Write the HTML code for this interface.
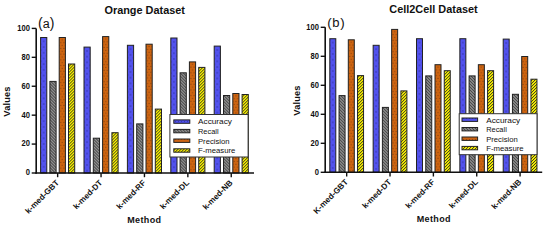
<!DOCTYPE html>
<html><head><meta charset="utf-8"><style>
html,body{margin:0;padding:0;background:#fff;}
body{width:550px;height:231px;overflow:hidden;}
svg{display:block;}
text{font-family:"Liberation Sans",sans-serif;fill:#111;}
.title{font-size:10.9px;font-weight:bold;}
.lab{font-size:13px;}
.tl{font-size:8.3px;font-weight:bold;}
.xl{font-size:8.1px;font-weight:bold;}
.ax{font-size:9px;font-weight:bold;letter-spacing:0.35px;}
.vl{font-size:9.3px;font-weight:bold;letter-spacing:0.15px;}
.lg{font-size:7.8px;}
</style></head><body>
<svg width="550" height="231" viewBox="0 0 550 231">
<defs>
<pattern id="d0" patternUnits="userSpaceOnUse" x="40.85" y="38.50" width="5.7" height="5.7"><rect width="5.7" height="5.7" fill="#5252ee"/><circle cx="2.85" cy="2.85" r="0.75" fill="#3030a0"/><circle cx="0.2" cy="0.2" r="0.6" fill="#4040c0"/><circle cx="5.5" cy="0.2" r="0.6" fill="#4040c0"/><circle cx="0.2" cy="5.5" r="0.6" fill="#4040c0"/><circle cx="5.5" cy="5.5" r="0.6" fill="#4040c0"/></pattern><pattern id="d1" patternUnits="userSpaceOnUse" x="60.70" y="38.50" width="3.2" height="5.7"><rect width="3.2" height="5.7" fill="#cd6410"/><circle cx="1.6" cy="1.4" r="0.6" fill="#8a4210"/><circle cx="0" cy="4.25" r="0.6" fill="#8a4210"/><circle cx="3.2" cy="4.25" r="0.6" fill="#8a4210"/></pattern><pattern id="d2" patternUnits="userSpaceOnUse" x="84.25" y="48.10" width="5.7" height="5.7"><rect width="5.7" height="5.7" fill="#5252ee"/><circle cx="2.85" cy="2.85" r="0.75" fill="#3030a0"/><circle cx="0.2" cy="0.2" r="0.6" fill="#4040c0"/><circle cx="5.5" cy="0.2" r="0.6" fill="#4040c0"/><circle cx="0.2" cy="5.5" r="0.6" fill="#4040c0"/><circle cx="5.5" cy="5.5" r="0.6" fill="#4040c0"/></pattern><pattern id="d3" patternUnits="userSpaceOnUse" x="104.10" y="37.60" width="3.2" height="5.7"><rect width="3.2" height="5.7" fill="#cd6410"/><circle cx="1.6" cy="1.4" r="0.6" fill="#8a4210"/><circle cx="0" cy="4.25" r="0.6" fill="#8a4210"/><circle cx="3.2" cy="4.25" r="0.6" fill="#8a4210"/></pattern><pattern id="d4" patternUnits="userSpaceOnUse" x="127.65" y="46.30" width="5.7" height="5.7"><rect width="5.7" height="5.7" fill="#5252ee"/><circle cx="2.85" cy="2.85" r="0.75" fill="#3030a0"/><circle cx="0.2" cy="0.2" r="0.6" fill="#4040c0"/><circle cx="5.5" cy="0.2" r="0.6" fill="#4040c0"/><circle cx="0.2" cy="5.5" r="0.6" fill="#4040c0"/><circle cx="5.5" cy="5.5" r="0.6" fill="#4040c0"/></pattern><pattern id="d5" patternUnits="userSpaceOnUse" x="147.50" y="45.20" width="3.2" height="5.7"><rect width="3.2" height="5.7" fill="#cd6410"/><circle cx="1.6" cy="1.4" r="0.6" fill="#8a4210"/><circle cx="0" cy="4.25" r="0.6" fill="#8a4210"/><circle cx="3.2" cy="4.25" r="0.6" fill="#8a4210"/></pattern><pattern id="d6" patternUnits="userSpaceOnUse" x="171.05" y="39.00" width="5.7" height="5.7"><rect width="5.7" height="5.7" fill="#5252ee"/><circle cx="2.85" cy="2.85" r="0.75" fill="#3030a0"/><circle cx="0.2" cy="0.2" r="0.6" fill="#4040c0"/><circle cx="5.5" cy="0.2" r="0.6" fill="#4040c0"/><circle cx="0.2" cy="5.5" r="0.6" fill="#4040c0"/><circle cx="5.5" cy="5.5" r="0.6" fill="#4040c0"/></pattern><pattern id="d7" patternUnits="userSpaceOnUse" x="190.90" y="62.90" width="3.2" height="5.7"><rect width="3.2" height="5.7" fill="#cd6410"/><circle cx="1.6" cy="1.4" r="0.6" fill="#8a4210"/><circle cx="0" cy="4.25" r="0.6" fill="#8a4210"/><circle cx="3.2" cy="4.25" r="0.6" fill="#8a4210"/></pattern><pattern id="d8" patternUnits="userSpaceOnUse" x="214.45" y="47.10" width="5.7" height="5.7"><rect width="5.7" height="5.7" fill="#5252ee"/><circle cx="2.85" cy="2.85" r="0.75" fill="#3030a0"/><circle cx="0.2" cy="0.2" r="0.6" fill="#4040c0"/><circle cx="5.5" cy="0.2" r="0.6" fill="#4040c0"/><circle cx="0.2" cy="5.5" r="0.6" fill="#4040c0"/><circle cx="5.5" cy="5.5" r="0.6" fill="#4040c0"/></pattern><pattern id="d9" patternUnits="userSpaceOnUse" x="234.30" y="94.50" width="3.2" height="5.7"><rect width="3.2" height="5.7" fill="#cd6410"/><circle cx="1.6" cy="1.4" r="0.6" fill="#8a4210"/><circle cx="0" cy="4.25" r="0.6" fill="#8a4210"/><circle cx="3.2" cy="4.25" r="0.6" fill="#8a4210"/></pattern><pattern id="d10" patternUnits="userSpaceOnUse" x="329.95" y="39.70" width="5.7" height="5.7"><rect width="5.7" height="5.7" fill="#5252ee"/><circle cx="2.85" cy="2.85" r="0.75" fill="#3030a0"/><circle cx="0.2" cy="0.2" r="0.6" fill="#4040c0"/><circle cx="5.5" cy="0.2" r="0.6" fill="#4040c0"/><circle cx="0.2" cy="5.5" r="0.6" fill="#4040c0"/><circle cx="5.5" cy="5.5" r="0.6" fill="#4040c0"/></pattern><pattern id="d11" patternUnits="userSpaceOnUse" x="349.70" y="40.80" width="3.2" height="5.7"><rect width="3.2" height="5.7" fill="#cd6410"/><circle cx="1.6" cy="1.4" r="0.6" fill="#8a4210"/><circle cx="0" cy="4.25" r="0.6" fill="#8a4210"/><circle cx="3.2" cy="4.25" r="0.6" fill="#8a4210"/></pattern><pattern id="d12" patternUnits="userSpaceOnUse" x="373.30" y="46.30" width="5.7" height="5.7"><rect width="5.7" height="5.7" fill="#5252ee"/><circle cx="2.85" cy="2.85" r="0.75" fill="#3030a0"/><circle cx="0.2" cy="0.2" r="0.6" fill="#4040c0"/><circle cx="5.5" cy="0.2" r="0.6" fill="#4040c0"/><circle cx="0.2" cy="5.5" r="0.6" fill="#4040c0"/><circle cx="5.5" cy="5.5" r="0.6" fill="#4040c0"/></pattern><pattern id="d13" patternUnits="userSpaceOnUse" x="393.05" y="30.40" width="3.2" height="5.7"><rect width="3.2" height="5.7" fill="#cd6410"/><circle cx="1.6" cy="1.4" r="0.6" fill="#8a4210"/><circle cx="0" cy="4.25" r="0.6" fill="#8a4210"/><circle cx="3.2" cy="4.25" r="0.6" fill="#8a4210"/></pattern><pattern id="d14" patternUnits="userSpaceOnUse" x="416.65" y="39.70" width="5.7" height="5.7"><rect width="5.7" height="5.7" fill="#5252ee"/><circle cx="2.85" cy="2.85" r="0.75" fill="#3030a0"/><circle cx="0.2" cy="0.2" r="0.6" fill="#4040c0"/><circle cx="5.5" cy="0.2" r="0.6" fill="#4040c0"/><circle cx="0.2" cy="5.5" r="0.6" fill="#4040c0"/><circle cx="5.5" cy="5.5" r="0.6" fill="#4040c0"/></pattern><pattern id="d15" patternUnits="userSpaceOnUse" x="436.40" y="65.70" width="3.2" height="5.7"><rect width="3.2" height="5.7" fill="#cd6410"/><circle cx="1.6" cy="1.4" r="0.6" fill="#8a4210"/><circle cx="0" cy="4.25" r="0.6" fill="#8a4210"/><circle cx="3.2" cy="4.25" r="0.6" fill="#8a4210"/></pattern><pattern id="d16" patternUnits="userSpaceOnUse" x="460.00" y="39.70" width="5.7" height="5.7"><rect width="5.7" height="5.7" fill="#5252ee"/><circle cx="2.85" cy="2.85" r="0.75" fill="#3030a0"/><circle cx="0.2" cy="0.2" r="0.6" fill="#4040c0"/><circle cx="5.5" cy="0.2" r="0.6" fill="#4040c0"/><circle cx="0.2" cy="5.5" r="0.6" fill="#4040c0"/><circle cx="5.5" cy="5.5" r="0.6" fill="#4040c0"/></pattern><pattern id="d17" patternUnits="userSpaceOnUse" x="479.75" y="65.70" width="3.2" height="5.7"><rect width="3.2" height="5.7" fill="#cd6410"/><circle cx="1.6" cy="1.4" r="0.6" fill="#8a4210"/><circle cx="0" cy="4.25" r="0.6" fill="#8a4210"/><circle cx="3.2" cy="4.25" r="0.6" fill="#8a4210"/></pattern><pattern id="d18" patternUnits="userSpaceOnUse" x="503.35" y="40.10" width="5.7" height="5.7"><rect width="5.7" height="5.7" fill="#5252ee"/><circle cx="2.85" cy="2.85" r="0.75" fill="#3030a0"/><circle cx="0.2" cy="0.2" r="0.6" fill="#4040c0"/><circle cx="5.5" cy="0.2" r="0.6" fill="#4040c0"/><circle cx="0.2" cy="5.5" r="0.6" fill="#4040c0"/><circle cx="5.5" cy="5.5" r="0.6" fill="#4040c0"/></pattern><pattern id="d19" patternUnits="userSpaceOnUse" x="523.10" y="57.50" width="3.2" height="5.7"><rect width="3.2" height="5.7" fill="#cd6410"/><circle cx="1.6" cy="1.4" r="0.6" fill="#8a4210"/><circle cx="0" cy="4.25" r="0.6" fill="#8a4210"/><circle cx="3.2" cy="4.25" r="0.6" fill="#8a4210"/></pattern>
<pattern id="pA" patternUnits="userSpaceOnUse" width="3" height="3"><rect width="3" height="3" fill="#5050ec"/><rect x="1" y="1" width="1" height="1" fill="#3a3ab0"/></pattern>
<pattern id="pP" patternUnits="userSpaceOnUse" width="3" height="3"><rect width="3" height="3" fill="#cc6414"/><rect x="1" y="1" width="1" height="1" fill="#9a4a10"/></pattern>
<pattern id="pR" patternUnits="userSpaceOnUse" width="2.12" height="2.12" patternTransform="rotate(45)"><rect width="2.12" height="2.12" fill="#a2a2a2"/><rect width="2.12" height="1.0" fill="#3a3a3a"/></pattern>
<pattern id="pF" patternUnits="userSpaceOnUse" width="2.12" height="2.12" patternTransform="rotate(-45)"><rect width="2.12" height="2.12" fill="#f8f000"/><rect width="2.12" height="0.7" fill="#303020"/></pattern>
</defs>
<rect width="550" height="231" fill="#fff"/>
<rect x="40.60" y="37.50" width="6.20" height="135.50" fill="url(#d0)" stroke="#222" stroke-width="1"/>
<rect x="49.90" y="81.40" width="6.20" height="91.60" fill="url(#pR)" stroke="#222" stroke-width="1"/>
<rect x="59.20" y="37.50" width="6.20" height="135.50" fill="url(#d1)" stroke="#222" stroke-width="1"/>
<rect x="68.50" y="64.00" width="6.20" height="109.00" fill="url(#pF)" stroke="#222" stroke-width="1"/>
<rect x="84.00" y="47.10" width="6.20" height="125.90" fill="url(#d2)" stroke="#222" stroke-width="1"/>
<rect x="93.30" y="138.20" width="6.20" height="34.80" fill="url(#pR)" stroke="#222" stroke-width="1"/>
<rect x="102.60" y="36.60" width="6.20" height="136.40" fill="url(#d3)" stroke="#222" stroke-width="1"/>
<rect x="111.90" y="132.70" width="6.20" height="40.30" fill="url(#pF)" stroke="#222" stroke-width="1"/>
<rect x="127.40" y="45.30" width="6.20" height="127.70" fill="url(#d4)" stroke="#222" stroke-width="1"/>
<rect x="136.70" y="123.90" width="6.20" height="49.10" fill="url(#pR)" stroke="#222" stroke-width="1"/>
<rect x="146.00" y="44.20" width="6.20" height="128.80" fill="url(#d5)" stroke="#222" stroke-width="1"/>
<rect x="155.30" y="109.10" width="6.20" height="63.90" fill="url(#pF)" stroke="#222" stroke-width="1"/>
<rect x="170.80" y="38.00" width="6.20" height="135.00" fill="url(#d6)" stroke="#222" stroke-width="1"/>
<rect x="180.10" y="72.80" width="6.20" height="100.20" fill="url(#pR)" stroke="#222" stroke-width="1"/>
<rect x="189.40" y="61.90" width="6.20" height="111.10" fill="url(#d7)" stroke="#222" stroke-width="1"/>
<rect x="198.70" y="67.40" width="6.20" height="105.60" fill="url(#pF)" stroke="#222" stroke-width="1"/>
<rect x="214.20" y="46.10" width="6.20" height="126.90" fill="url(#d8)" stroke="#222" stroke-width="1"/>
<rect x="223.50" y="95.50" width="6.20" height="77.50" fill="url(#pR)" stroke="#222" stroke-width="1"/>
<rect x="232.80" y="93.50" width="6.20" height="79.50" fill="url(#d9)" stroke="#222" stroke-width="1"/>
<rect x="242.10" y="94.50" width="6.20" height="78.50" fill="url(#pF)" stroke="#222" stroke-width="1"/>
<line x1="36.20" y1="28.40" x2="36.20" y2="173.80" stroke="#111" stroke-width="1.6"/>
<line x1="35.40" y1="173.00" x2="254.00" y2="173.00" stroke="#111" stroke-width="1.6"/>
<line x1="31.70" y1="173.00" x2="36.20" y2="173.00" stroke="#111" stroke-width="1.4"/>
<text x="30.00" y="175.40" class="tl" text-anchor="end" textLength="4.23" lengthAdjust="spacingAndGlyphs">0</text>
<line x1="31.70" y1="144.08" x2="36.20" y2="144.08" stroke="#111" stroke-width="1.4"/>
<text x="30.00" y="146.48" class="tl" text-anchor="end" textLength="8.45" lengthAdjust="spacingAndGlyphs">20</text>
<line x1="31.70" y1="115.16" x2="36.20" y2="115.16" stroke="#111" stroke-width="1.4"/>
<text x="30.00" y="117.56" class="tl" text-anchor="end" textLength="8.45" lengthAdjust="spacingAndGlyphs">40</text>
<line x1="31.70" y1="86.24" x2="36.20" y2="86.24" stroke="#111" stroke-width="1.4"/>
<text x="30.00" y="88.64" class="tl" text-anchor="end" textLength="8.45" lengthAdjust="spacingAndGlyphs">60</text>
<line x1="31.70" y1="57.32" x2="36.20" y2="57.32" stroke="#111" stroke-width="1.4"/>
<text x="30.00" y="59.72" class="tl" text-anchor="end" textLength="8.45" lengthAdjust="spacingAndGlyphs">80</text>
<line x1="31.70" y1="28.40" x2="36.20" y2="28.40" stroke="#111" stroke-width="1.4"/>
<text x="30.00" y="30.80" class="tl" text-anchor="end" textLength="12.68" lengthAdjust="spacingAndGlyphs">100</text>
<line x1="57.65" y1="173.00" x2="57.65" y2="177.20" stroke="#111" stroke-width="1.4"/>
<text transform="translate(59.45,183.30) rotate(-45)" class="xl" text-anchor="end">k-med-GBT</text>
<line x1="101.05" y1="173.00" x2="101.05" y2="177.20" stroke="#111" stroke-width="1.4"/>
<text transform="translate(102.85,183.30) rotate(-45)" class="xl" text-anchor="end">k-med-DT</text>
<line x1="144.45" y1="173.00" x2="144.45" y2="177.20" stroke="#111" stroke-width="1.4"/>
<text transform="translate(146.25,183.30) rotate(-45)" class="xl" text-anchor="end">k-med-RF</text>
<line x1="187.85" y1="173.00" x2="187.85" y2="177.20" stroke="#111" stroke-width="1.4"/>
<text transform="translate(189.65,183.30) rotate(-45)" class="xl" text-anchor="end">k-med-DL</text>
<line x1="231.25" y1="173.00" x2="231.25" y2="177.20" stroke="#111" stroke-width="1.4"/>
<text transform="translate(233.05,183.30) rotate(-45)" class="xl" text-anchor="end">k-med-NB</text>
<text x="144.70" y="13.80" class="title" text-anchor="middle">Orange Dataset</text>
<text x="38.10" y="28.00" class="lab"><tspan style="font-size:14px">(</tspan><tspan style="font-size:12.5px">a</tspan><tspan style="font-size:14px">)</tspan></text>
<text x="144.30" y="223.00" class="ax" text-anchor="middle">Method</text>
<text transform="translate(9.90,101.50) rotate(-90)" class="vl" text-anchor="middle">Values</text>
<rect x="169.90" y="114.50" width="78.20" height="42.50" fill="#fff" stroke="#333" stroke-width="1"/>
<rect x="173.80" y="119.90" width="16.00" height="3.4" fill="url(#pA)" stroke="#222" stroke-width="1"/>
<text x="198.00" y="124.20" class="lg" textLength="34.0" lengthAdjust="spacingAndGlyphs">Accuracy</text>
<rect x="173.80" y="129.40" width="16.00" height="3.4" fill="url(#pR)" stroke="#222" stroke-width="1"/>
<text x="198.00" y="133.80" class="lg" textLength="20.6" lengthAdjust="spacingAndGlyphs">Recall</text>
<rect x="173.80" y="139.00" width="16.00" height="3.4" fill="url(#pP)" stroke="#222" stroke-width="1"/>
<text x="198.00" y="143.50" class="lg" textLength="31.5" lengthAdjust="spacingAndGlyphs">Precision</text>
<rect x="173.80" y="148.80" width="16.00" height="3.4" fill="url(#pF)" stroke="#222" stroke-width="1"/>
<text x="198.00" y="153.40" class="lg" textLength="37.4" lengthAdjust="spacingAndGlyphs">F-measure</text>
<rect x="329.80" y="38.70" width="6.00" height="133.60" fill="url(#d10)" stroke="#222" stroke-width="1"/>
<rect x="339.05" y="95.60" width="6.00" height="76.70" fill="url(#pR)" stroke="#222" stroke-width="1"/>
<rect x="348.30" y="39.80" width="6.00" height="132.50" fill="url(#d11)" stroke="#222" stroke-width="1"/>
<rect x="357.55" y="75.60" width="6.00" height="96.70" fill="url(#pF)" stroke="#222" stroke-width="1"/>
<rect x="373.15" y="45.30" width="6.00" height="127.00" fill="url(#d12)" stroke="#222" stroke-width="1"/>
<rect x="382.40" y="107.40" width="6.00" height="64.90" fill="url(#pR)" stroke="#222" stroke-width="1"/>
<rect x="391.65" y="29.40" width="6.00" height="142.90" fill="url(#d13)" stroke="#222" stroke-width="1"/>
<rect x="400.90" y="90.90" width="6.00" height="81.40" fill="url(#pF)" stroke="#222" stroke-width="1"/>
<rect x="416.50" y="38.70" width="6.00" height="133.60" fill="url(#d14)" stroke="#222" stroke-width="1"/>
<rect x="425.75" y="75.90" width="6.00" height="96.40" fill="url(#pR)" stroke="#222" stroke-width="1"/>
<rect x="435.00" y="64.70" width="6.00" height="107.60" fill="url(#d15)" stroke="#222" stroke-width="1"/>
<rect x="444.25" y="70.70" width="6.00" height="101.60" fill="url(#pF)" stroke="#222" stroke-width="1"/>
<rect x="459.85" y="38.70" width="6.00" height="133.60" fill="url(#d16)" stroke="#222" stroke-width="1"/>
<rect x="469.10" y="75.90" width="6.00" height="96.40" fill="url(#pR)" stroke="#222" stroke-width="1"/>
<rect x="478.35" y="64.70" width="6.00" height="107.60" fill="url(#d17)" stroke="#222" stroke-width="1"/>
<rect x="487.60" y="70.70" width="6.00" height="101.60" fill="url(#pF)" stroke="#222" stroke-width="1"/>
<rect x="503.20" y="39.10" width="6.00" height="133.20" fill="url(#d18)" stroke="#222" stroke-width="1"/>
<rect x="512.45" y="94.30" width="6.00" height="78.00" fill="url(#pR)" stroke="#222" stroke-width="1"/>
<rect x="521.70" y="56.50" width="6.00" height="115.80" fill="url(#d19)" stroke="#222" stroke-width="1"/>
<rect x="530.95" y="79.20" width="6.00" height="93.10" fill="url(#pF)" stroke="#222" stroke-width="1"/>
<line x1="325.20" y1="27.30" x2="325.20" y2="173.10" stroke="#111" stroke-width="1.6"/>
<line x1="324.40" y1="172.30" x2="542.20" y2="172.30" stroke="#111" stroke-width="1.6"/>
<line x1="320.70" y1="172.30" x2="325.20" y2="172.30" stroke="#111" stroke-width="1.4"/>
<text x="319.00" y="174.70" class="tl" text-anchor="end" textLength="4.23" lengthAdjust="spacingAndGlyphs">0</text>
<line x1="320.70" y1="143.30" x2="325.20" y2="143.30" stroke="#111" stroke-width="1.4"/>
<text x="319.00" y="145.70" class="tl" text-anchor="end" textLength="8.45" lengthAdjust="spacingAndGlyphs">20</text>
<line x1="320.70" y1="114.30" x2="325.20" y2="114.30" stroke="#111" stroke-width="1.4"/>
<text x="319.00" y="116.70" class="tl" text-anchor="end" textLength="8.45" lengthAdjust="spacingAndGlyphs">40</text>
<line x1="320.70" y1="85.30" x2="325.20" y2="85.30" stroke="#111" stroke-width="1.4"/>
<text x="319.00" y="87.70" class="tl" text-anchor="end" textLength="8.45" lengthAdjust="spacingAndGlyphs">60</text>
<line x1="320.70" y1="56.30" x2="325.20" y2="56.30" stroke="#111" stroke-width="1.4"/>
<text x="319.00" y="58.70" class="tl" text-anchor="end" textLength="8.45" lengthAdjust="spacingAndGlyphs">80</text>
<line x1="320.70" y1="27.30" x2="325.20" y2="27.30" stroke="#111" stroke-width="1.4"/>
<text x="319.00" y="29.70" class="tl" text-anchor="end" textLength="12.68" lengthAdjust="spacingAndGlyphs">100</text>
<line x1="346.68" y1="172.30" x2="346.68" y2="176.50" stroke="#111" stroke-width="1.4"/>
<text transform="translate(348.48,182.60) rotate(-45)" class="xl" text-anchor="end">K-med-GBT</text>
<line x1="390.03" y1="172.30" x2="390.03" y2="176.50" stroke="#111" stroke-width="1.4"/>
<text transform="translate(391.83,182.60) rotate(-45)" class="xl" text-anchor="end">k-med-DT</text>
<line x1="433.38" y1="172.30" x2="433.38" y2="176.50" stroke="#111" stroke-width="1.4"/>
<text transform="translate(435.18,182.60) rotate(-45)" class="xl" text-anchor="end">k-med-RF</text>
<line x1="476.73" y1="172.30" x2="476.73" y2="176.50" stroke="#111" stroke-width="1.4"/>
<text transform="translate(478.53,182.60) rotate(-45)" class="xl" text-anchor="end">k-med-DL</text>
<line x1="520.08" y1="172.30" x2="520.08" y2="176.50" stroke="#111" stroke-width="1.4"/>
<text transform="translate(521.88,182.60) rotate(-45)" class="xl" text-anchor="end">k-med-NB</text>
<text x="433.50" y="13.20" class="title" text-anchor="middle">Cell2Cell Dataset</text>
<text x="327.20" y="26.60" class="lab"><tspan style="font-size:13.3px">(</tspan><tspan style="font-size:13px" dx="0.7">b</tspan><tspan style="font-size:13.3px" dx="0.6">)</tspan></text>
<text x="433.80" y="221.50" class="ax" text-anchor="middle">Method</text>
<text transform="translate(299.60,100.50) rotate(-90)" class="vl" text-anchor="middle">Values</text>
<rect x="459.20" y="113.70" width="77.80" height="41.00" fill="#fff" stroke="#333" stroke-width="1"/>
<rect x="462.00" y="118.00" width="15.60" height="3.4" fill="url(#pA)" stroke="#222" stroke-width="1"/>
<text x="486.20" y="122.80" class="lg" textLength="34.0" lengthAdjust="spacingAndGlyphs">Accuracy</text>
<rect x="462.00" y="127.50" width="15.60" height="3.4" fill="url(#pR)" stroke="#222" stroke-width="1"/>
<text x="486.20" y="131.90" class="lg" textLength="20.6" lengthAdjust="spacingAndGlyphs">Recall</text>
<rect x="462.00" y="137.00" width="15.60" height="3.4" fill="url(#pP)" stroke="#222" stroke-width="1"/>
<text x="486.20" y="141.70" class="lg" textLength="31.5" lengthAdjust="spacingAndGlyphs">Precision</text>
<rect x="462.00" y="146.40" width="15.60" height="3.4" fill="url(#pF)" stroke="#222" stroke-width="1"/>
<text x="486.20" y="151.00" class="lg" textLength="37.4" lengthAdjust="spacingAndGlyphs">F-measure</text>
</svg>
</body></html>
